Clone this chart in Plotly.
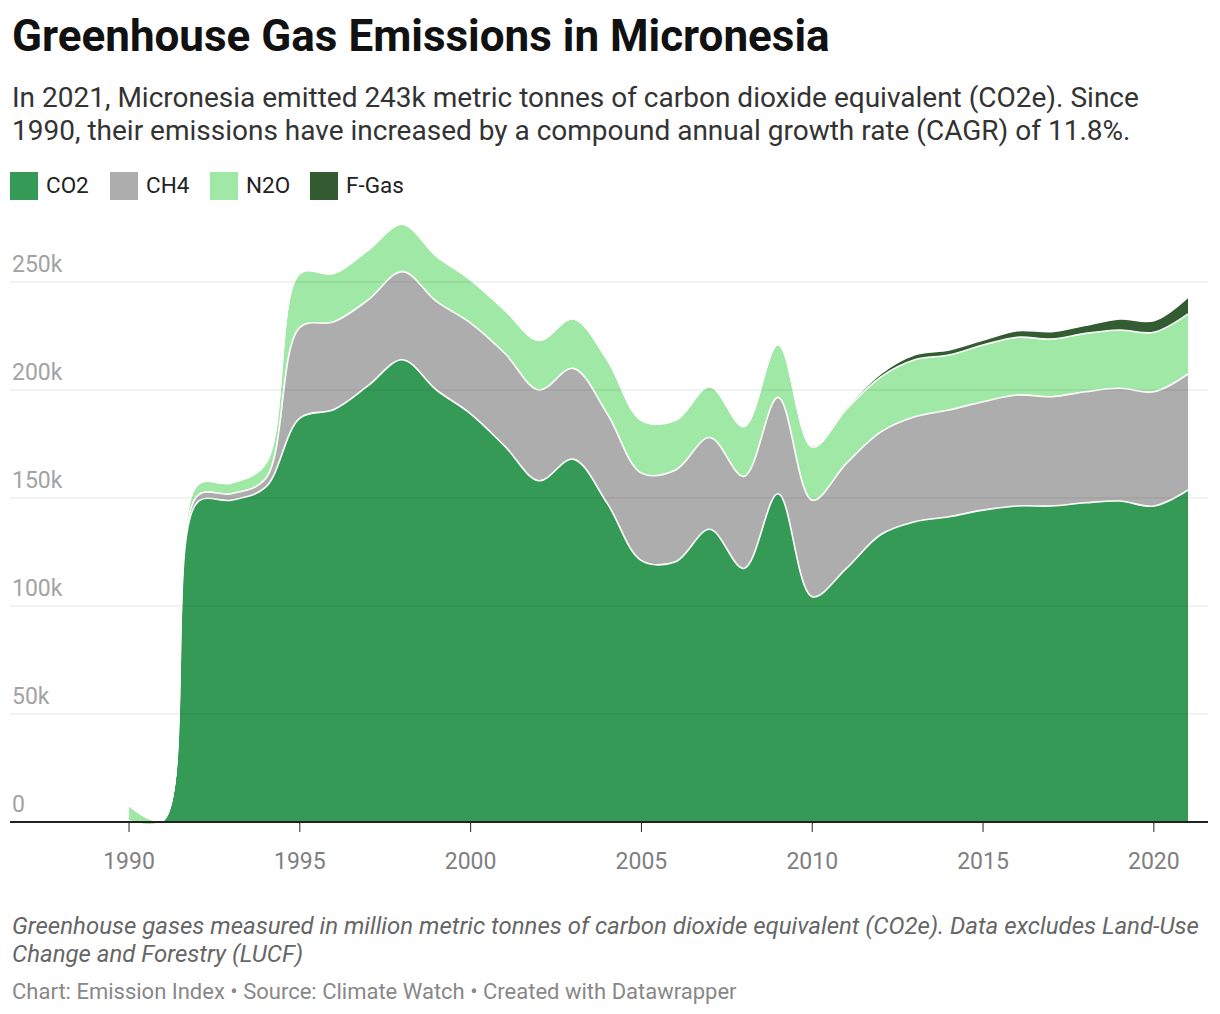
import plotly.graph_objects as go

years = list(range(1990, 2022))
# values in thousand tonnes CO2e
co2 = [0.3, 0.5, 148, 149, 155, 187, 191, 202, 214, 200,
       189, 174, 158, 168, 147.5, 121, 120.5, 135.5, 117.4, 152,
       104.3, 117.4, 133, 139, 141.3, 144.4, 146.3, 146.3, 147.8, 148.6,
       146.3, 153.7]
ch4 = [0.3, 0.3, 3, 3, 4, 42, 40.6, 39.7, 40.8, 41,
       42, 43, 42, 42, 41.5, 40.5, 42.5, 42.5, 42.6, 44.6,
       44.7, 48.6, 47.5, 48.6, 49.4, 50.2, 51.4, 50.6, 51.4, 52.2,
       52.9, 53.7]
n2o = [7.0, 0.3, 5, 5, 7, 25, 22.4, 23.1, 22, 21,
       20, 20, 23, 23, 25, 24.5, 23, 23.5, 23, 24.4,
       24.5, 25, 25.5, 26.4, 25.5, 26.2, 26.7, 26.7, 27, 27,
       27.5, 27.8]
fgas = [0, 0, 0, 0, 0, 0, 0, 0, 0, 0,
        0, 0, 0, 0, 0, 0, 0, 0.4, 0.4, 0.5,
        0.6, 0.9, 1.5, 2.3, 2.3, 2.3, 3.1, 3.4, 3.8, 5.1,
        5.4, 7.8]

series_names = ["CO2", "CH4", "N2O", "F-Gas"]
series_colors = ["#349a56", "#adadad", "#a0e8a6", "#335c33"]

x_ticks = [1990, 1995, 2000, 2005, 2010, 2015, 2020]
y_ticks = [0, 50, 100, 150, 200, 250]
y_labels = ["0", "50k", "100k", "150k", "200k", "250k"]

W, H = 1220, 1014
PL, PR, PT, PB = 10, 1208, 215, 845  # plot area in pixels


def px(X):
    return (X - PL) / (PR - PL)


def py(Y):
    return (PB - Y) / (PB - PT)


fig = go.Figure()
for name, vals, col in zip(series_names, [co2, ch4, n2o, fgas], series_colors):
    fig.add_trace(go.Scatter(
        x=years, y=vals, name=name, mode="lines", stackgroup="one",
        line=dict(color="white", width=1.6, shape="spline", smoothing=1.0),
        fillcolor=col, showlegend=False, hoverinfo="skip"))

shapes = []
for v in y_ticks[1:]:
    shapes.append(dict(type="line", xref="paper", yref="y", x0=0, x1=1, y0=v, y1=v,
                       line=dict(color="rgba(0,0,0,0.1)", width=1), layer="above"))
shapes.append(dict(type="line", xref="paper", yref="y", x0=0, x1=1, y0=0, y1=0,
                   line=dict(color="#222222", width=2), layer="above"))
for t in x_ticks:
    shapes.append(dict(type="line", xref="x", yref="y", x0=t, x1=t, y0=0, y1=-4.6,
                       line=dict(color="#222222", width=1), layer="above"))

annotations = []
for v, lab in zip(y_ticks, y_labels):
    annotations.append(dict(xref="paper", yref="y", x=0, y=v, text=lab, showarrow=False,
                            xanchor="left", yanchor="bottom", yshift=2,
                            font=dict(family="Roboto", size=23, color="#a3a3a3")))

annotations.append(dict(xref="paper", yref="paper", x=px(10), y=py(36), xanchor="left", yanchor="middle",
                        text="<b>Greenhouse Gas Emissions in Micronesia</b>", showarrow=False,
                        font=dict(family="Roboto", size=44, color="#111111")))
annotations.append(dict(xref="paper", yref="paper", x=px(10), y=py(97), xanchor="left", yanchor="middle",
                        text="In 2021, Micronesia emitted 243k metric tonnes of carbon dioxide equivalent (CO2e). Since",
                        showarrow=False, font=dict(family="Roboto", size=28, color="#333333")))
annotations.append(dict(xref="paper", yref="paper", x=px(10), y=py(130), xanchor="left", yanchor="middle",
                        text="1990, their emissions have increased by a compound annual growth rate (CAGR) of 11.8%.",
                        showarrow=False, font=dict(family="Roboto", size=28, color="#333333")))

leg_x = [10, 110, 210, 310]
for name, col, lx in zip(series_names, series_colors, leg_x):
    shapes.append(dict(type="rect", xref="paper", yref="paper", x0=px(lx), x1=px(lx + 28),
                       y0=py(200), y1=py(172), fillcolor=col, line=dict(width=0), layer="above"))
    annotations.append(dict(xref="paper", yref="paper", x=px(lx + 34), y=py(185), xanchor="left",
                            yanchor="middle", text=name, showarrow=False,
                            font=dict(family="Roboto", size=22.5, color="#222222")))

annotations.append(dict(xref="paper", yref="paper", x=px(10), y=py(926), xanchor="left", yanchor="middle",
                        text="<i>Greenhouse gases measured in million metric tonnes of carbon dioxide equivalent (CO2e). Data excludes Land-Use</i>",
                        showarrow=False, font=dict(family="Roboto", size=24, color="#666666")))
annotations.append(dict(xref="paper", yref="paper", x=px(10), y=py(954), xanchor="left", yanchor="middle",
                        text="<i>Change and Forestry (LUCF)</i>",
                        showarrow=False, font=dict(family="Roboto", size=24, color="#666666")))
annotations.append(dict(xref="paper", yref="paper", x=px(10), y=py(991), xanchor="left", yanchor="middle",
                        text="Chart: Emission Index \u2022 Source: Climate Watch \u2022 Created with Datawrapper",
                        showarrow=False, font=dict(family="Roboto", size=22, color="#888888")))

y_per_px = 1 / 2.16
fig.update_layout(
    width=W, height=H,
    margin=dict(l=PL, r=W - PR, t=PT, b=H - PB, pad=0),
    paper_bgcolor="white", plot_bgcolor="white",
    xaxis=dict(range=[1986.516, 2021.585], tickvals=x_ticks, ticks="", showgrid=False,
               zeroline=False, showline=False,
               tickfont=dict(family="Roboto", size=23, color="#7f7f7f")),
    yaxis=dict(range=[-(PB - 822) * y_per_px, (822 - PT) * y_per_px], showgrid=False,
               zeroline=False, showline=False, showticklabels=False),
    shapes=shapes, annotations=annotations, showlegend=False,
)

fig.write_html("out.html")
